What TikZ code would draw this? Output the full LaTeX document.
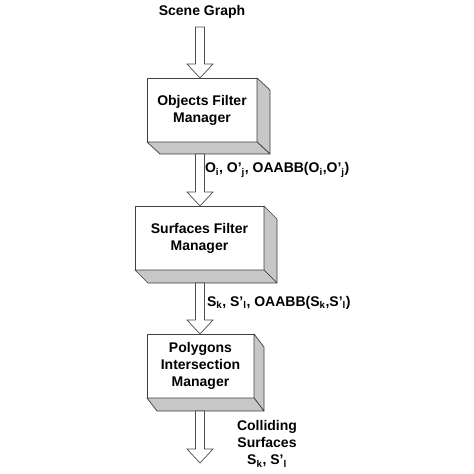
\documentclass[tikz,border=0pt]{standalone}
\usepackage{fontspec}
\setmainfont{Liberation Sans}
\usetikzlibrary{calc}
\tikzset{
  every node/.style={font=\fontsize{14}{17}\selectfont\bfseries, outer sep=0pt},
  box/.style={draw=black!75, fill=white, line width=0.7pt, minimum height=64pt, align=center, inner sep=0pt},
  side/.style={draw=black!75, fill=black!22, line width=0.7pt, line join=round},
  barrow/.style={draw=black!70, fill=white, line width=0.7pt, line join=miter},
  lbl/.style={anchor=west, inner sep=0pt},
}
\newcommand\boxsides[3]{%
  \draw[side] (#1.north east) -- ++(#2,#3) -- ($(#1.south east)+(#2,#3)$) -- (#1.south east) -- cycle;
  \draw[side] (#1.south west) -- ++(#2,#3) -- ($(#1.south east)+(#2,#3)$) -- (#1.south east) -- cycle;
}
\newcommand\blockarrow[2]{%
  \draw[barrow] let \p1=(#1), \p2=(#2) in
    (\x1-4.5pt,\y1) -- (\x1+4.5pt,\y1) -- (\x1+4.5pt,\y2+14pt) -- (\x1+13pt,\y2+14pt)
    -- (\x1,\y2) -- (\x1-13pt,\y2+14pt) -- (\x1-4.5pt,\y2+14pt) -- cycle;
}
\begin{document}
\begin{tikzpicture}[x=1pt,y=-1pt]
  \useasboundingbox (0,0) rectangle (474,474);
  \node (sg) at (202,12) {Scene Graph};
  \coordinate (a1) at (200,27);
  \node[box, minimum width=110pt] (b1) at (202,110) {Objects Filter\\Manager};
  \node[box, minimum width=129pt] (b2) at (199.5,238) {Surfaces Filter\\Manager};
  \node[box, minimum width=107pt] (b3) at (200.5,366) {Polygons\\Intersection\\Manager};
  \boxsides{b1}{13}{12}
  \boxsides{b2}{13}{13}
  \boxsides{b3}{10}{13}
  \coordinate (t1) at (a1 |- b1.north);
  \coordinate (a2) at ($(a1 |- b1.south)+(0,12)$);
  \coordinate (t2) at (a1 |- b2.north);
  \coordinate (a3) at ($(a1 |- b2.south)+(0,13)$);
  \coordinate (t3) at (a1 |- b3.north);
  \coordinate (a4) at ($(a1 |- b3.south)+(0,13)$);
  \coordinate (out) at (200,463);
  \blockarrow{a1}{t1}
  \blockarrow{a2}{t2}
  \blockarrow{a3}{t3}
  \blockarrow{a4}{out}
  \node[lbl] (l1) at (205,170) {O\textsubscript{i}, O'\textsubscript{j}, OAABB(O\textsubscript{i},O'\textsubscript{j})};
  \node[lbl] (l2) at (207,303) {S\textsubscript{k}, S'\textsubscript{l}, OAABB(S\textsubscript{k},S'\textsubscript{l})};
  \node[align=center, inner sep=0pt] (cs) at (267,444) {Colliding\\Surfaces\\S\textsubscript{k}, S'\textsubscript{l}};
\end{tikzpicture}
\end{document}
